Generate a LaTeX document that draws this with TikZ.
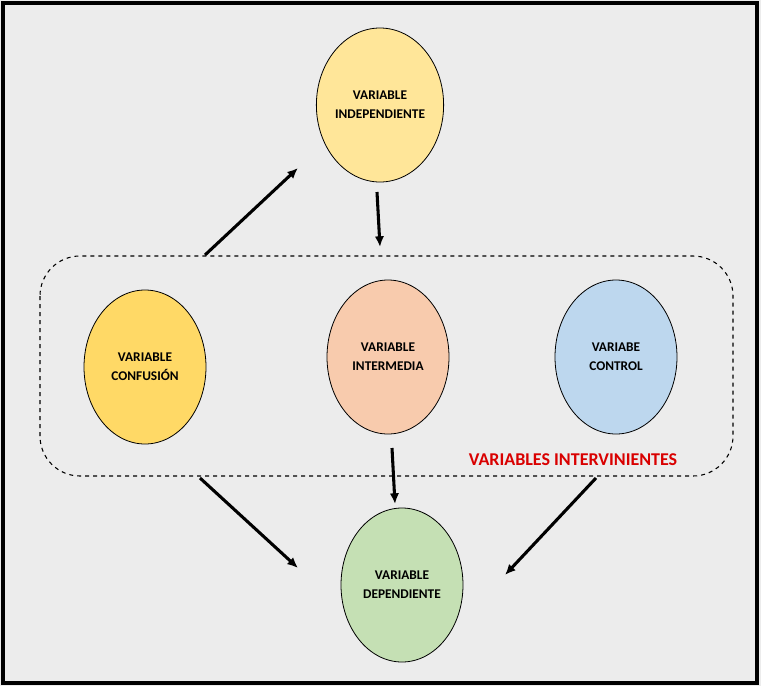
\documentclass[tikz,border=0pt]{standalone}
\usepackage{fontspec}
\setmainfont{Carlito}
\usetikzlibrary{shapes.geometric,arrows.meta}
\definecolor{bg}{HTML}{ECECEC}
\begin{document}
\begin{tikzpicture}[x=0.75pt,y=-0.75pt,
  v/.style={ellipse,draw=black,line width=0.6pt,minimum width=122\pgflinewidth*0+91.5pt,minimum height=115.5pt,align=center,font=\bfseries\fontsize{10}{14}\selectfont,inner sep=0pt},
  ar/.style={line width=2.3pt,-{Latex[length=8pt,width=7pt]}}]
\fill[bg] (0,0) rectangle (761,686);
\useasboundingbox (0,0) rectangle (761,686);
\draw[line width=2.3pt] (3,3) rectangle (757,683);
\draw[dashed,line width=0.8pt,rounded corners=30pt] (40,256) rectangle (733,476);
\node[text=red!85!black,font=\bfseries\fontsize{13.5}{16}\selectfont] (lab) at (573,460) {VARIABLES INTERVINIENTES};
\node[v,fill={rgb,255:red,255;green,230;blue,153}] (ind) at (380,105) {VARIABLE\\INDEPENDIENTE};
\node[v,fill={rgb,255:red,255;green,217;blue,102}] (con) at (145,367) {VARIABLE\\CONFUSIÓN};
\node[v,fill={rgb,255:red,248;green,203;blue,173}] (int) at (388,357) {VARIABLE\\INTERMEDIA};
\node[v,fill={rgb,255:red,189;green,215;blue,238}] (ctl) at (616,357) {VARIABE\\CONTROL};
\node[v,fill={rgb,255:red,197;green,224;blue,180}] (dep) at (402,585) {VARIABLE\\DEPENDIENTE};
\coordinate (a1) at (205,255); \coordinate (b1) at (298,168);
\coordinate (a2) at (377,192); \coordinate (b2) at (380,247);
\coordinate (a3) at (392,448); \coordinate (b3) at (395,504);
\coordinate (a4) at (200,478); \coordinate (b4) at (298,568);
\coordinate (a5) at (596,478); \coordinate (b5) at (505,575);
\draw[ar] (a1) -- (b1);
\draw[ar] (a2) -- (b2);
\draw[ar] (a3) -- (b3);
\draw[ar] (a4) -- (b4);
\draw[ar] (a5) -- (b5);
\end{tikzpicture}
\end{document}
